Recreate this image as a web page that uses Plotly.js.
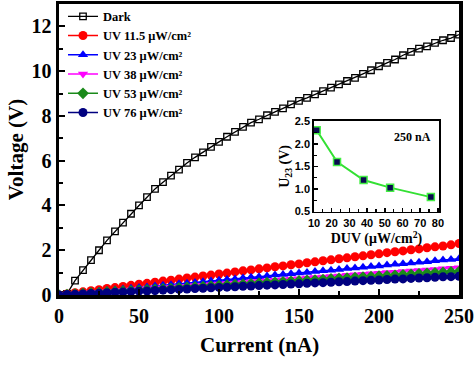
<!DOCTYPE html>
<html>
<head>
<meta charset="utf-8">
<script src="https://cdn.plot.ly/plotly-3.0.1.min.js"></script>
<style>html,body{margin:0;padding:0;background:#fff;}#chart{width:474px;height:379px;}</style>
</head>
<body>
<div id="chart"></div>
<script>
// Current (nA), every 5 nA from 0 to 250
const current = [0,5,10,15,20,25,30,35,40,45,50,55,60,65,70,75,80,85,90,95,100,105,110,115,120,125,130,135,140,145,150,155,160,165,170,175,180,185,190,195,200,205,210,215,220,225,230,235,240,245,250];

const darkV = [0,0.05,0.64,1.11,1.56,2.0,2.44,2.84,3.23,3.63,4.0,4.37,4.74,5.04,5.33,5.6,5.9,6.15,6.37,6.62,6.84,7.07,7.29,7.51,7.70,7.85,8.03,8.18,8.34,8.52,8.67,8.81,8.96,9.11,9.26,9.41,9.56,9.70,9.88,10.04,10.22,10.37,10.52,10.71,10.86,11.01,11.11,11.26,11.38,11.48,11.63];

const uv115 = [0,0.05,0.10,0.14,0.19,0.24,0.29,0.33,0.38,0.43,0.48,0.52,0.57,0.62,0.66,0.71,0.76,0.80,0.85,0.89,0.94,0.98,1.03,1.08,1.12,1.17,1.21,1.26,1.30,1.35,1.39,1.44,1.48,1.53,1.57,1.62,1.66,1.71,1.75,1.80,1.84,1.89,1.93,1.97,2.02,2.06,2.11,2.15,2.19,2.24,2.30];

const uv23 = [0,0.03,0.07,0.10,0.13,0.17,0.20,0.23,0.27,0.30,0.33,0.36,0.40,0.43,0.46,0.50,0.53,0.56,0.59,0.63,0.66,0.69,0.72,0.76,0.79,0.82,0.85,0.89,0.92,0.95,0.98,1.01,1.05,1.08,1.11,1.14,1.18,1.21,1.24,1.27,1.30,1.34,1.37,1.40,1.43,1.46,1.49,1.53,1.56,1.59,1.62];

const uv38 = [0,0.02,0.05,0.07,0.10,0.12,0.15,0.17,0.20,0.22,0.25,0.27,0.29,0.32,0.34,0.37,0.39,0.42,0.44,0.47,0.49,0.51,0.54,0.56,0.59,0.61,0.64,0.66,0.68,0.71,0.73,0.76,0.78,0.80,0.83,0.85,0.88,0.90,0.93,0.95,0.97,1.00,1.02,1.05,1.07,1.10,1.12,1.14,1.17,1.19,1.22];

const uv53 = [0,0.02,0.04,0.06,0.08,0.10,0.13,0.15,0.17,0.19,0.21,0.23,0.25,0.27,0.29,0.32,0.34,0.36,0.38,0.40,0.42,0.44,0.46,0.48,0.50,0.53,0.55,0.57,0.59,0.61,0.63,0.65,0.67,0.69,0.72,0.74,0.76,0.78,0.80,0.82,0.84,0.86,0.88,0.90,0.92,0.95,0.97,0.99,1.01,1.03,1.05];

const uv76 = [0,0.02,0.03,0.05,0.07,0.08,0.10,0.12,0.13,0.15,0.17,0.18,0.20,0.22,0.24,0.25,0.27,0.29,0.30,0.32,0.34,0.35,0.37,0.39,0.40,0.42,0.44,0.45,0.47,0.49,0.50,0.52,0.54,0.55,0.57,0.59,0.60,0.62,0.64,0.66,0.67,0.69,0.71,0.72,0.74,0.76,0.77,0.79,0.81,0.82,0.84];

// Inset: U at 250 nA vs DUV intensity
const duv = [11.5, 23, 38, 53, 76];
const u250 = [2.3, 1.6, 1.2, 1.03, 0.82];

const seriesNames = ['Dark','UV 11.5 μW/cm²','UV 23 μW/cm²','UV 38 μW/cm²','UV 53 μW/cm²','UV 76 μW/cm²'];
const yTickVals = [0,2,4,6,8,10,12];
const xTickVals = [0,50,100,150,200,250];

const serif = 'Liberation Serif, Times New Roman, serif';
const sans = 'Liberation Sans, Arial, sans-serif';

function uvTrace(y, name, color, symbol, size) {
  return {x: current, y: y, name: name, type: 'scatter', mode: 'lines+markers',
    line: {color: color, width: 1.5},
    marker: {color: color, symbol: symbol, size: size, line: {width: 0}},
    xaxis: 'x', yaxis: 'y'};
}

const data = [
  {x: current, y: darkV, name: seriesNames[0], type: 'scatter', mode: 'lines+markers',
   line: {color: '#000', width: 1.3},
   marker: {symbol: 'square-open', size: 6.5, color: '#000', line: {width: 1.3}},
   xaxis: 'x', yaxis: 'y'},
  uvTrace(uv115, seriesNames[1], '#ff0000', 'circle', 9),
  uvTrace(uv23, seriesNames[2], '#0000ff', 'triangle-up', 9),
  uvTrace(uv38, seriesNames[3], '#ff00ff', 'triangle-down', 9),
  uvTrace(uv53, seriesNames[4], '#1a8a1a', 'diamond', 9),
  uvTrace(uv76, seriesNames[5], '#000080', 'circle', 9),
  {x: duv, y: u250, type: 'scatter', mode: 'lines+markers', showlegend: false,
   line: {color: '#33e033', width: 2},
   marker: {symbol: 'square', size: 7, color: '#0a0a50', line: {color: '#44ee44', width: 1.5}},
   xaxis: 'x2', yaxis: 'y2'}
];

const layout = {
  width: 474, height: 379,
  margin: {l: 59, r: 15, t: 2, b: 84},
  paper_bgcolor: '#fff', plot_bgcolor: '#fff',
  showlegend: true,
  legend: {x: 0.01, y: 1.008, xanchor: 'left', yanchor: 'top', bgcolor: 'rgba(0,0,0,0)',
    font: {family: serif, size: 12.5, color: '#000', weight: 'bold'}, itemwidth: 30, tracegroupgap: 0},
  xaxis: {range: [0, 250], domain: [0, 1], tickvals: xTickVals, ticks: 'inside', ticklen: 6, tickwidth: 2,
    tickcolor: '#000', showline: true, linewidth: 3.5, linecolor: '#000', mirror: true, showgrid: false, zeroline: false,
    tickfont: {family: serif, size: 20, color: '#000', weight: 'bold'},
    minor: {dtick: 25, ticks: 'inside', ticklen: 4, tickwidth: 2, tickcolor: '#000', showgrid: false}},
  yaxis: {range: [0, 13], domain: [0, 1], tickvals: yTickVals, ticks: 'inside', ticklen: 6, tickwidth: 2,
    tickcolor: '#000', showline: true, linewidth: 3.5, linecolor: '#000', mirror: true, showgrid: false, zeroline: false,
    tickfont: {family: serif, size: 20, color: '#000', weight: 'bold'},
    minor: {dtick: 1, ticks: 'inside', ticklen: 4, tickwidth: 2, tickcolor: '#000', showgrid: false},
    title: {text: 'Voltage (V)', font: {family: serif, size: 21, color: '#000', weight: 'bold'}, standoff: 3}},
  xaxis2: {anchor: 'y2', domain: [0.6375, 0.95], range: [10, 80.6], dtick: 10, ticks: 'inside', ticklen: 4, tickwidth: 1.5,
    tickcolor: '#000', showline: true, linewidth: 1.8, linecolor: '#000', mirror: true, showgrid: false, zeroline: false,
    tickfont: {family: sans, size: 11, color: '#000', weight: 'bold'},
    minor: {dtick: 5, ticks: 'inside', ticklen: 2.5, tickwidth: 1.2, tickcolor: '#000', showgrid: false},
    title: {text: 'DUV (μW/cm<sup>2</sup>)', font: {family: serif, size: 14, color: '#000', weight: 'bold'}, standoff: 0}},
  yaxis2: {anchor: 'x2', domain: [0.2867, 0.597], range: [0.5, 2.5], dtick: 0.5, tickformat: '.1f', ticks: 'inside', ticklen: 4, tickwidth: 1.5,
    tickcolor: '#000', showline: true, linewidth: 1.8, linecolor: '#000', mirror: true, showgrid: false, zeroline: false,
    tickfont: {family: sans, size: 11, color: '#000', weight: 'bold'},
    minor: {dtick: 0.25, ticks: 'inside', ticklen: 2.5, tickwidth: 1.2, tickcolor: '#000', showgrid: false},
    title: {text: 'U<sub>23</sub> (V)', font: {family: serif, size: 14, color: '#000', weight: 'bold'}, standoff: 2}},
  annotations: [
    {xref: 'x2 domain', yref: 'y2 domain', x: 0.95, y: 0.93, xanchor: 'right', yanchor: 'top',
     text: '250 nA', showarrow: false, font: {family: serif, size: 12, color: '#000', weight: 'bold'}},
    {xref: 'x domain', yref: 'paper', x: 0.5, y: -0.1706, xanchor: 'center', yanchor: 'middle',
     text: 'Current (nA)', showarrow: false, font: {family: serif, size: 21, color: '#000', weight: 'bold'}}
  ]
};

Plotly.newPlot('chart', data, layout, {staticPlot: true, displayModeBar: false});
</script>
</body>
</html>
